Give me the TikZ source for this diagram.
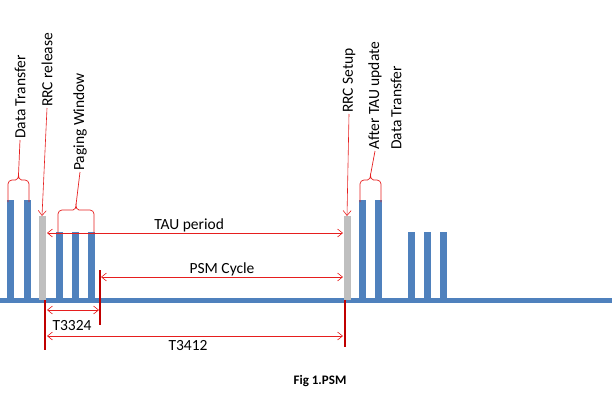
\documentclass[tikz,border=0pt]{standalone}
\usepackage{fontspec}
\setmainfont{Carlito}
\usetikzlibrary{arrows.meta}
\definecolor{barblue}{RGB}{79,129,189}
\definecolor{bargray}{RGB}{191,191,191}
\definecolor{lred}{RGB}{230,30,30}
\definecolor{dred}{RGB}{192,0,0}
\tikzset{
  bar/.style={fill=barblue,draw=none},
  gbar/.style={fill=bargray,draw=none},
  lbl/.style={font=\fontsize{15.5}{18}\selectfont,inner sep=1pt},
  vlbl/.style={lbl,rotate=90,anchor=west},
  dim/.style={draw=lred,line width=0.6pt,{Straight Barb[length=5pt,width=8pt]}-{Straight Barb[length=5pt,width=8pt]}},
  rarr/.style={draw=lred,line width=0.6pt,-{Straight Barb[length=5pt,width=8pt]}},
  brc/.style={draw=lred,line width=0.7pt},
  tick/.style={draw=dred,line width=1.6pt}
}
\newcommand{\mybrace}[4]{% x1, x2, y ends bottom, y tip
  \pgfmathsetmacro{\bm}{(#1+#2)/2}%
  \pgfmathsetmacro{\bl}{\bm-3}%
  \pgfmathsetmacro{\br}{\bm+3}%
  \pgfmathsetmacro{\ya}{#4+24}%
  \pgfmathsetmacro{\yb}{#4+20}%
  \pgfmathsetmacro{\yc}{#4+15}%
  \pgfmathsetmacro{\xa}{#1+4}%
  \pgfmathsetmacro{\xb}{#2-4}%
  \draw[brc] (#1,#3) -- (#1,\ya) to[out=90,in=180] (\xa,\yb) -- (\bl,\yb) to[out=0,in=-90] (\bm,\yc)
    to[out=-90,in=180] (\br,\yb) -- (\xb,\yb) to[out=0,in=90] (#2,\ya) -- (#2,#3);}
\begin{document}
\begin{tikzpicture}[x=1pt,y=-1pt]
\useasboundingbox (0,0) rectangle (612,410);
\fill[barblue] (0,297.5) rectangle (612,302.5);
\foreach \x in {10,27,362,378} \fill[bar] (\x-3.5,200) rectangle (\x+3.5,300);
\foreach \x in {59,75,91,411,427,443} \fill[bar] (\x-3.5,232) rectangle (\x+3.5,300);
\fill[gbar] (38.5,216) rectangle (45.5,300);
\fill[gbar] (343.5,216) rectangle (350.5,300);
\coordinate (relTop) at (42,216);
\coordinate (setTop) at (347,216);
\draw[tick] (45,300) -- (45,350);
\draw[tick] (100,270) -- (100,325);
\draw[tick] (345,300) -- (345,347);
\node[vlbl] (dt1) at (20,140) {Data Transfer};
\node[vlbl] (rrcrel) at (47,108) {RRC release};
\node[vlbl] (pw) at (80,172) {Paging Window};
\node[vlbl] (rrcset) at (349,114) {RRC Setup};
\node[vlbl] (atu) at (375,151) {After TAU update};
\node[vlbl] (dt2) at (396,151) {Data Transfer};
\mybrace{8}{29}{202}{160}
\draw[brc] (18.5,175) -- (dt1.west);
\mybrace{58}{94}{234}{190}
\draw[brc] (76,205) -- (pw.west);
\mybrace{360}{381}{202}{160}
\draw[brc] (370.5,175) -- (atu.west);
\draw[rarr] (rrcrel.west) -- (relTop);
\draw[rarr] (rrcset.west) -- (setTop);
\coordinate (a1) at (47,233); \coordinate (a2) at (343,233);
\draw[dim] (a1) -- node[lbl,above=0pt,pos=0.48] (tau) {TAU period} (a2);
\coordinate (b1) at (101,277); \coordinate (b2) at (343,277);
\draw[dim] (b1) -- node[lbl,above=0pt,pos=0.5] (psm) {PSM Cycle} (b2);
\coordinate (c1) at (47,310); \coordinate (c2) at (99,310);
\draw[dim] (c1) -- (c2);
\node[lbl] (t3324) at (72,326) {T3324};
\coordinate (d1) at (47,336); \coordinate (d2) at (343,336);
\draw[dim] (d1) -- (d2);
\node[lbl] (t3412) at (188,346) {T3412};
\node[font=\bfseries\fontsize{13}{15}\selectfont] (cap) at (320,381) {Fig 1.PSM};
\end{tikzpicture}
\end{document}
